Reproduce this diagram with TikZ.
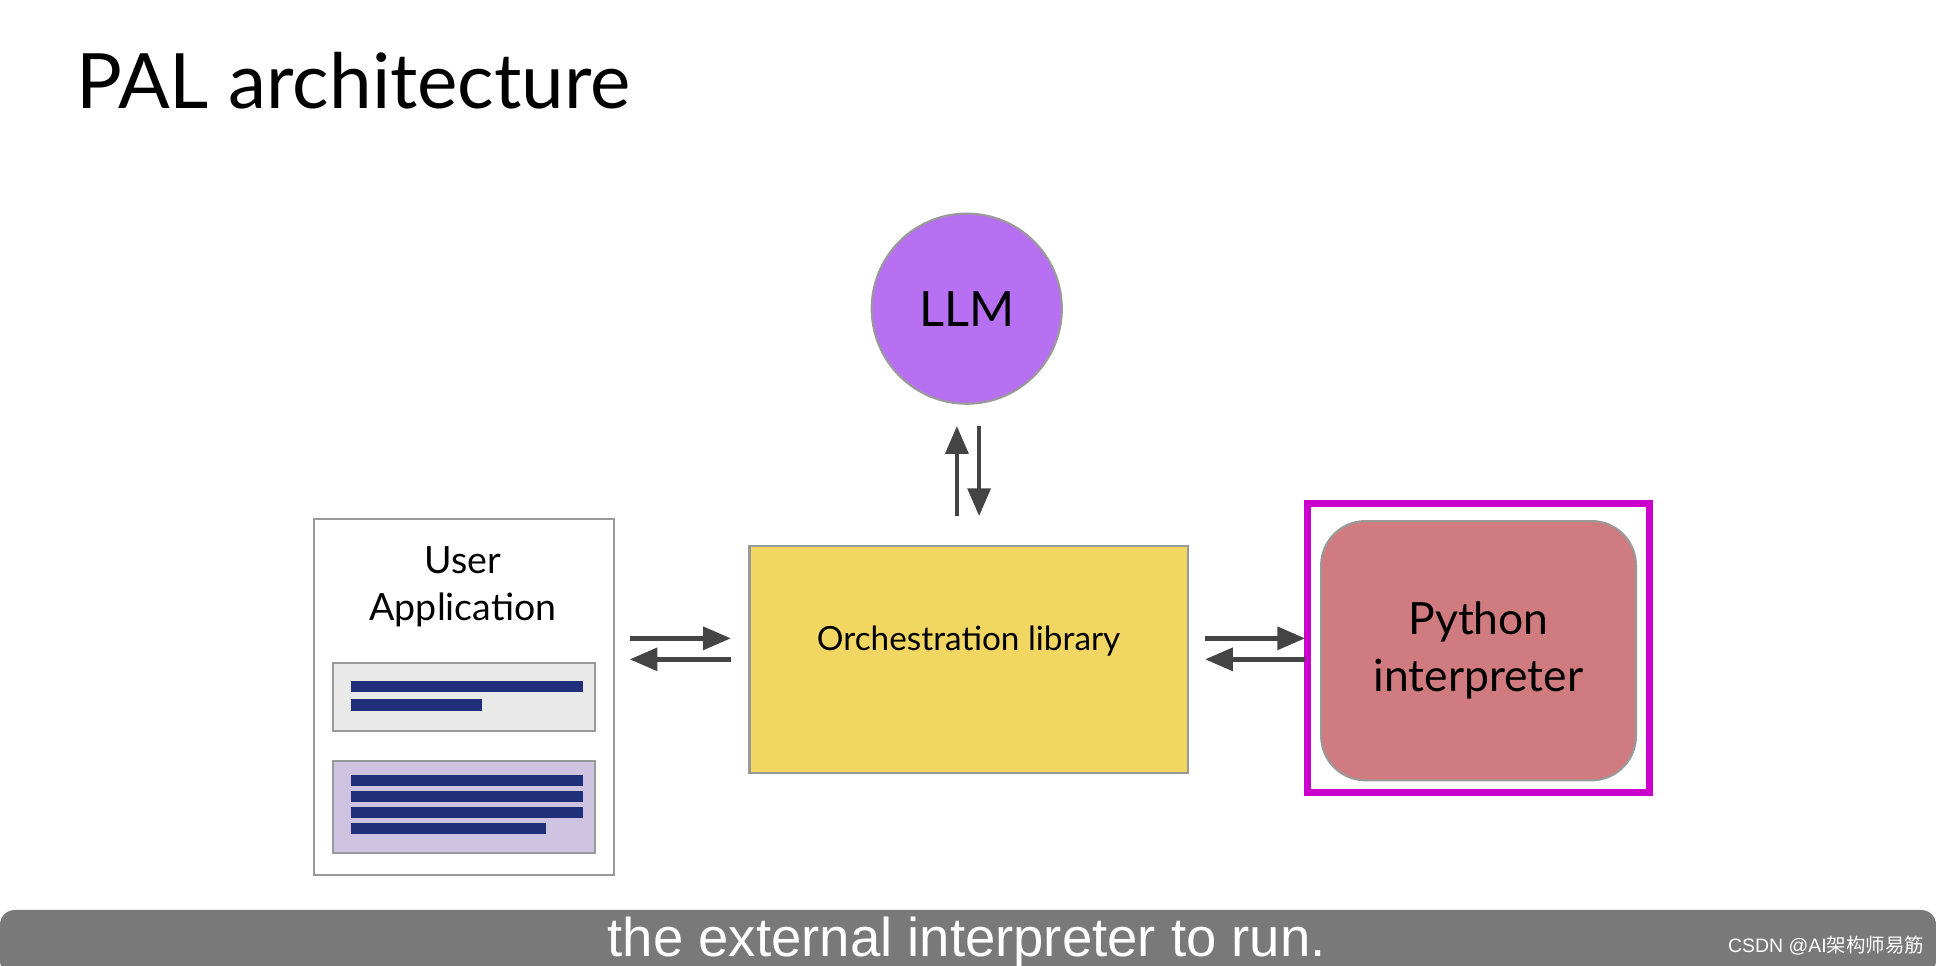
\documentclass[tikz,border=0pt]{standalone}
\usepackage{fontspec}
\setmainfont{Lato}
\newfontfamily\capfont{Liberation Sans}
\newfontfamily\cjk{Noto Sans CJK SC}
\usetikzlibrary{arrows.meta}
\definecolor{llmpurple}{HTML}{B870F2}
\definecolor{orchyellow}{HTML}{F2D662}
\definecolor{pyred}{HTML}{D07B80}
\definecolor{linkblue}{HTML}{1F2F7A}
\definecolor{panelgray}{HTML}{E9E9E9}
\definecolor{panellilac}{HTML}{CEC3E0}
\definecolor{framemag}{HTML}{CC00CC}
\definecolor{arrowgray}{HTML}{444444}
\tikzset{
	box/.style={draw=gray!80, line width=0.6pt},
	flow/.style={-{Triangle[length=8pt,width=6.5pt]}, arrowgray, line width=1.3pt},
	textline/.style={linkblue, line width=3.2pt}
}
\begin{document}
\begin{tikzpicture}[x=0.0125cm,y=-0.0125cm]
	% canvas
		\useasboundingbox (0,0) rectangle (1568,782);
		\fill[white] (0,0) rectangle (1568,782);
	% title
		\node[anchor=base west, font=\fontsize{22}{26}\selectfont, inner sep=0] (title) at (61,88) {PAL architecture};
	% LLM
		\node[box, circle, fill=llmpurple, minimum size=154*0.0125cm, font=\fontsize{14}{17}\selectfont] (llm) at (783,250) {LLM};
	% orchestration
		\node[box, fill=orchyellow, minimum width=355*0.0125cm, minimum height=184*0.0125cm] (orch) at (784.5,534) {};
		\node[font=\fontsize{9.6}{12}\selectfont] (orchtext) at (784.5,519) {Orchestration library};
	% user application
		\node[box, fill=white, minimum width=243*0.0125cm, minimum height=289*0.0125cm] (user) at (375.5,564.5) {};
		\node[align=center, font=\fontsize{10.8}{13.5}\selectfont] (usertext) at (375,475) {User\\Application};
		\node[box, fill=panelgray, minimum width=212*0.0125cm, minimum height=55*0.0125cm] (panelA) at (376,564.5) {};
		\node[box, fill=panellilac, minimum width=212*0.0125cm, minimum height=75*0.0125cm] (panelB) at (376,653.5) {};
		\draw[textline] (284,556) -- (472,556);
		\draw[textline] (284,571) -- (390,571);
		\foreach \y in {632,645,658}
			\draw[textline] (284,\y) -- (472,\y);
		\draw[textline] (284,671) -- (442,671);
	% python interpreter
		\node[draw=framemag, line width=2pt, minimum width=277*0.0125cm, minimum height=234*0.0125cm] (frame) at (1197.5,525) {};
		\node[box, fill=pyred, rounded corners=0.45cm, minimum width=255*0.0125cm, minimum height=210*0.0125cm, align=center, font=\fontsize{12.8}{16.5}\selectfont] (python) at (1197.5,527) {Python\\interpreter};
	% arrows
		\coordinate (llmA) at (775,418); \coordinate (llmB) at (775,345);
		\coordinate (llmC) at (793,345); \coordinate (llmD) at (793,418);
		\draw[flow] (llmA) -- (llmB);
		\draw[flow] (llmC) -- (llmD);
		\coordinate (uoA) at (510,517); \coordinate (uoB) at (592,517);
		\coordinate (uoC) at (592,534); \coordinate (uoD) at (510,534);
		\draw[flow] (uoA) -- (uoB);
		\draw[flow] (uoC) -- (uoD);
		\coordinate (opA) at (976,517); \coordinate (opB) at (1057,517);
		\coordinate (opC) at (1057,534); \coordinate (opD) at (976,534);
		\draw[flow] (opA) -- (opB);
		\draw[flow] (opC) -- (opD);
	% caption bar
		\fill[gray!95!black, rounded corners=0.15cm] (0,737) rectangle (1568,790);
		\node[white, font=\capfont\fontsize{15.7}{19}\selectfont] (caption) at (783,763) {the external interpreter to run.};
		\node[white, font=\capfont\fontsize{5.6}{7}\selectfont] (mark) at (1479,766) {CSDN @AI{\cjk 架构师易筋}};
\end{tikzpicture}
\end{document}
